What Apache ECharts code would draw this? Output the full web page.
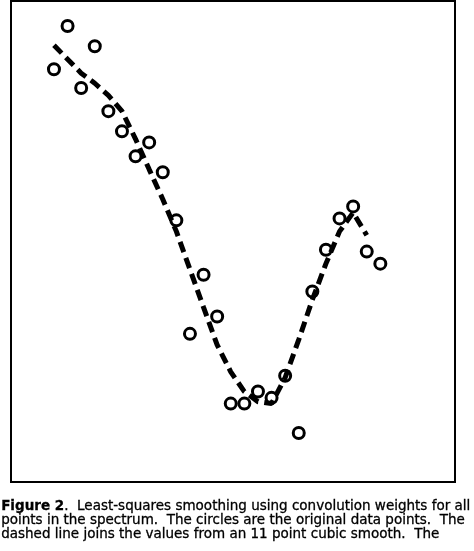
<!DOCTYPE html>
<html><head><meta charset="utf-8">
<script src="https://cdn.jsdelivr.net/npm/echarts@6/dist/echarts.min.js"></script>
<style>html,body{margin:0;padding:0;background:#fff}#c{width:474px;height:551px}</style>
</head><body><div id="c"></div>
<script>
// point index along the spectrum
const pointIndex = [0,1,2,3,4,5,6,7,8,9,10,11,12,13,14,15,16,17,18,19,20,21,22,23,24];
// original data points (circles)
const original = [85.8,94.8,81.9,90.6,77.1,72.9,67.7,70.6,64.4,54.4,30.8,43.1,34.4,16.3,16.3,18.8,17.5,22.1,10.2,39.6,48.3,54.8,57.3,47.9,45.4];
// 11 point cubic smooth (dashed line)
const smoothed = [90.8,87.9,85.0,82.9,80.4,77.1,71.3,65.0,58.8,52.1,44.2,36.3,28.5,22.9,18.8,16.7,16.3,21.7,29.6,37.9,45.4,52.1,56.0,51.3];
const captionLines = [
  ["Figure 2", ".  Least-squares smoothing using convolution weights for all"],
  ["", "points in the spectrum.  The circles are the original data points.  The"],
  ["", "dashed line joins the values from an 11 point cubic smooth.  The"]
];

const chart = echarts.init(document.getElementById('c'));
const font = '"DejaVu Sans", sans-serif';
chart.setOption({
  animation: false,
  grid: {left: 11, top: 1, width: 444, height: 481, show: true, borderColor: '#000', borderWidth: 2, backgroundColor: '#fff'},
  xAxis: {type: 'value', min: -3.16, max: 29.49, show: false},
  yAxis: {type: 'value', min: 0, max: 100, show: false},
  series: [
    {type: 'line', data: smoothed.map((v, i) => [pointIndex[i], v]), showSymbol: false, symbol: 'none',
     lineStyle: {color: '#000', width: 5, type: [11, 6]}, z: 2},
    {type: 'scatter', data: original.map((v, i) => [pointIndex[i], v]), symbol: 'circle', symbolSize: 11,
     itemStyle: {color: 'rgba(0,0,0,0)', borderColor: '#000', borderWidth: 3, opacity: 1}, z: 3}
  ],
  graphic: captionLines.map((ln, k) => ({
    type: 'text', left: 1, top: 499.5 + k * 13.7,
    style: {
      text: (ln[0] ? '{b|' + ln[0] + '}' : '') + ln[1],
      font: '13.5px ' + font, fill: '#000', stroke: '#000', lineWidth: 0.3,
      rich: {b: {fontWeight: 'bold', fontSize: 13.5, fontFamily: font}}
    }
  }))
});
</script></body></html>
